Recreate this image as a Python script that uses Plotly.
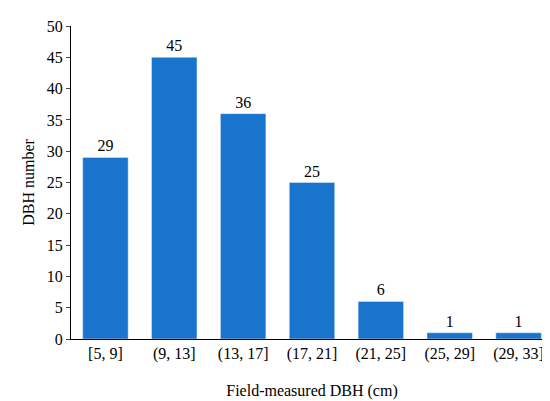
import plotly.graph_objects as go

categories = ["[5, 9]", "(9, 13]", "(13, 17]", "(17, 21]", "(21, 25]", "(25, 29]", "(29, 33]"]
counts = [29, 45, 36, 25, 6, 1, 1]

fig = go.Figure()
fig.add_trace(go.Bar(
    x=categories,
    y=counts,
    marker_color='#1874CD',
    width=0.66,
    text=[str(v) for v in counts],
    textposition='outside',
    textfont=dict(color='black', size=16),
    cliponaxis=False,
))

fig.update_layout(
    font=dict(family='Liberation Serif', color='black', size=15),
    xaxis=dict(
        title=dict(text="Field-measured DBH (cm)", font=dict(size=16), standoff=22),
        tickfont=dict(size=16),
        showline=True, linecolor='black', linewidth=1,
        ticks='', showgrid=False,
    ),
    yaxis=dict(
        title=dict(text="DBH number", font=dict(size=16), standoff=8),
        range=[0, 50],
        dtick=5,
        tickfont=dict(size=16),
        showline=True, linecolor='black', linewidth=1,
        ticks='outside', ticklen=4, showgrid=False, zeroline=False,
    ),
    width=550,
    height=401,
    plot_bgcolor='white',
    paper_bgcolor='white',
    showlegend=False,
    margin=dict(l=63, r=5, t=18, b=70),
)

fig.write_html("out.html")
